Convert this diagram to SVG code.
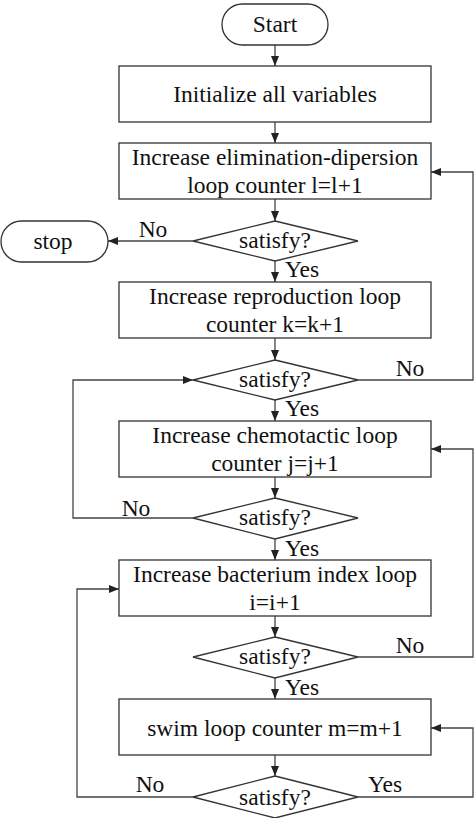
<svg xmlns="http://www.w3.org/2000/svg" width="474" height="818" viewBox="0 0 474 818">
<style>
.s{fill:#fff;stroke:#333;stroke-width:1.3}
.t{font-family:"Liberation Serif","Times New Roman",serif;font-size:23.5px;fill:#111;text-anchor:middle}
.c{fill:none;stroke:#444;stroke-width:1.3}
</style>
<defs>
<marker id="a" viewBox="0 0 10 10" refX="10" refY="5" markerWidth="10" markerHeight="10" markerUnits="userSpaceOnUse" orient="auto">
<path d="M0,1 L10,5 L0,9 Z" fill="#222"/>
</marker>
</defs>
<rect width="474" height="818" fill="#fff"/>
<g id="connectors">
<line class="c" x1="275" y1="45" x2="275" y2="66" marker-end="url(#a)"/>
<line class="c" x1="275" y1="122" x2="275" y2="143" marker-end="url(#a)"/>
<line class="c" x1="275" y1="199" x2="275" y2="221" marker-end="url(#a)"/>
<line class="c" x1="193" y1="241" x2="108" y2="241" marker-end="url(#a)"/>
<line class="c" x1="275" y1="261" x2="275" y2="282" marker-end="url(#a)"/>
<line class="c" x1="275" y1="338" x2="275" y2="360" marker-end="url(#a)"/>
<polyline class="c" points="358,380 473,380 473,172 431,172" marker-end="url(#a)"/>
<polyline class="c" points="193,518 73,518 73,380 193,380" marker-end="url(#a)"/>
<line class="c" x1="275" y1="400" x2="275" y2="421" marker-end="url(#a)"/>
<line class="c" x1="275" y1="477" x2="275" y2="498" marker-end="url(#a)"/>
<line class="c" x1="275" y1="539" x2="275" y2="560" marker-end="url(#a)"/>
<polyline class="c" points="358,657 473,657 473,449 431,449" marker-end="url(#a)"/>
<line class="c" x1="275" y1="616" x2="275" y2="637" marker-end="url(#a)"/>
<line class="c" x1="275" y1="678" x2="275" y2="699" marker-end="url(#a)"/>
<line class="c" x1="275" y1="755" x2="275" y2="776" marker-end="url(#a)"/>
<polyline class="c" points="193,797 77,797 77,589 119,589" marker-end="url(#a)"/>
<polyline class="c" points="358,797 473,797 473,728 431,728" marker-end="url(#a)"/>
<text class="t" x="153" y="237">No</text>
<text class="t" x="302" y="277">Yes</text>
<text class="t" x="410" y="376">No</text>
<text class="t" x="302" y="416">Yes</text>
<text class="t" x="136" y="516">No</text>
<text class="t" x="302" y="556">Yes</text>
<text class="t" x="410" y="653">No</text>
<text class="t" x="302" y="695">Yes</text>
<text class="t" x="150" y="792">No</text>
<text class="t" x="385" y="792">Yes</text>
</g>
<g id="start"><rect class="s" x="222" y="4" width="106" height="41" rx="20.5"/><text class="t" x="275" y="32">Start</text></g>
<g id="init"><rect class="s" x="119" y="66" width="312" height="56"/><text class="t" x="275" y="102">Initialize all variables</text></g>
<g id="elim"><rect class="s" x="119" y="143" width="312" height="56"/><text class="t" x="275" y="165">Increase elimination-dipersion</text><text class="t" x="275" y="193">loop counter l=l+1</text></g>
<g id="d1"><polygon class="s" points="275,221 358,241 275,261 193,241"/><text class="t" x="275" y="248">satisfy?</text></g>
<g id="stop"><rect class="s" x="1" y="221" width="107" height="41" rx="20.5"/><text class="t" x="53" y="249">stop</text></g>
<g id="repro"><rect class="s" x="119" y="282" width="312" height="56"/><text class="t" x="275" y="304">Increase reproduction loop</text><text class="t" x="275" y="332">counter k=k+1</text></g>
<g id="d2"><polygon class="s" points="275,360 358,380 275,400 193,380"/><text class="t" x="275" y="387">satisfy?</text></g>
<g id="chemo"><rect class="s" x="119" y="421" width="312" height="56"/><text class="t" x="275" y="443">Increase chemotactic loop</text><text class="t" x="275" y="471">counter j=j+1</text></g>
<g id="d3"><polygon class="s" points="275,498 358,518 275,539 193,518"/><text class="t" x="275" y="525">satisfy?</text></g>
<g id="bact"><rect class="s" x="119" y="560" width="312" height="56"/><text class="t" x="275" y="582">Increase bacterium index loop</text><text class="t" x="275" y="610">i=i+1</text></g>
<g id="d4"><polygon class="s" points="275,637 358,657 275,678 193,657"/><text class="t" x="275" y="664">satisfy?</text></g>
<g id="swim"><rect class="s" x="119" y="699" width="312" height="56"/><text class="t" x="275" y="736">swim loop counter m=m+1</text></g>
<g id="d5"><polygon class="s" points="275,776 358,797 275,818 193,797"/><text class="t" x="275" y="805">satisfy?</text></g>
</svg>
